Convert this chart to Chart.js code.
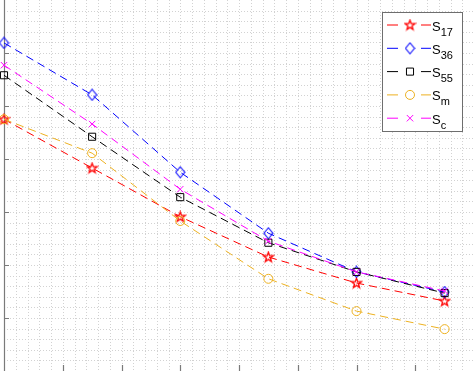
<!DOCTYPE html>
<html>
<head>
<meta charset="utf-8">
<script src="https://cdn.jsdelivr.net/npm/chart.js@4/dist/chart.umd.min.js"></script>
<style>
    html, body { margin: 0; padding: 0; background: #ffffff; }
    #wrap { position: relative; width: 474px; height: 371px; }
</style>
</head>
<body>
<div id="wrap"><canvas id="chart" width="474" height="371"></canvas></div>
<script>
// data
const xValues = [0, 15, 30, 45, 60, 75];
const s17 = [4.75, 3.83, 2.91, 2.15, 1.66, 1.32];
const s36 = [6.19, 5.21, 3.75, 2.60, 1.87, 1.49];
const s55 = [5.58, 4.42, 3.28, 2.42, 1.87, 1.47];
const sm  = [4.75, 4.11, 2.83, 1.74, 1.13, 0.79];
const sc  = [5.77, 4.66, 3.43, 2.45, 1.87, 1.51];

const seriesSubs = ['17', '36', '55', 'm', 'c'];
const seriesData = [s17, s36, s55, sm, sc];
const seriesColors = ['#ff0000', '#0000ff', '#000000', '#edb120', '#ff00ff'];

const xTicks = [10, 20, 30, 40, 50, 60, 70];
const yTicks = [1, 2, 3, 4, 5, 6];

// 五角星 marker (MATLAB 'p')
function makeStar(color) {
    const c = document.createElement('canvas');
    c.width = 13; c.height = 13;
    const g = c.getContext('2d');
    g.strokeStyle = color;
    g.lineWidth = 1.3;
    g.beginPath();
    for (let i = 0; i < 10; i++) {
        const r = i % 2 === 0 ? 5.2 : 2.1;
        const a = -Math.PI / 2 + i * Math.PI / 5;
        const px = 6.5 + r * Math.cos(a), py = 6.8 + r * Math.sin(a);
        if (i === 0) g.moveTo(px, py); else g.lineTo(px, py);
    }
    g.closePath();
    g.stroke();
    return c;
}

// 菱形 marker, a bit taller than wide
function makeDiamond(color) {
    const c = document.createElement('canvas');
    c.width = 11; c.height = 13;
    const g = c.getContext('2d');
    g.strokeStyle = color;
    g.lineWidth = 1.1;
    g.beginPath();
    g.moveTo(5.5, 1); g.lineTo(10, 6.5); g.lineTo(5.5, 12); g.lineTo(1, 6.5);
    g.closePath();
    g.stroke();
    return c;
}

const markerStyles = [makeStar(seriesColors[0]), makeDiamond(seriesColors[1]), 'rect', 'circle', 'crossRot'];
const markerRadius = [5, 5, 5, 4.5, 4.5];

const datasets = seriesData.map((vals, i) => ({
    label: 'S' + seriesSubs[i],
    data: xValues.map((x, k) => ({ x: x, y: vals[k] })),
    borderColor: seriesColors[i],
    borderWidth: 1,
    borderDash: [8, 5],
    pointStyle: markerStyles[i],
    pointRadius: markerRadius[i],
    pointBorderColor: seriesColors[i],
    pointBackgroundColor: 'rgba(0,0,0,0)',
    pointBorderWidth: 1,
    tension: 0,
    clip: false,
    order: seriesData.length - 1 - i
}));

// 网格和坐标轴
const gridPlugin = {
    id: 'matlabGrid',
    beforeDatasetsDraw(chart) {
        const { ctx, chartArea: a, scales: { x, y } } = chart;
        ctx.save();
        ctx.strokeStyle = '#d2d2d2';
        ctx.lineWidth = 1;
        ctx.setLineDash([1, 2]);
        ctx.beginPath();
        for (let i = 1; i < 40; i++) {
            const px = Math.round(x.getPixelForValue(i * 2)) + 0.5;
            ctx.moveTo(px, a.top);
            ctx.lineTo(px, a.bottom);
        }
        for (let i = 1; i < 35; i++) {
            const py = Math.round(y.getPixelForValue(i * 0.2)) + 0.5;
            ctx.moveTo(a.left, py);
            ctx.lineTo(a.right, py);
        }
        ctx.stroke();
        ctx.setLineDash([]);

        ctx.strokeStyle = '#7a7a7a';
        ctx.lineWidth = 1.2;
        ctx.beginPath();
        ctx.moveTo(a.left + 0.5, a.top);
        ctx.lineTo(a.left + 0.5, a.bottom);
        yTicks.forEach(v => {
            const py = Math.round(y.getPixelForValue(v)) + 0.5;
            ctx.moveTo(a.left, py);
            ctx.lineTo(a.left + 5, py);
        });
        xTicks.forEach(v => {
            const px = Math.round(x.getPixelForValue(v)) + 0.5;
            ctx.moveTo(px, a.bottom);
            ctx.lineTo(px, a.bottom - 6);
        });
        ctx.stroke();
        ctx.restore();
    }
};

// 图例 with subscripts
const legendPlugin = {
    id: 'matlabLegend',
    afterDraw(chart) {
        const ctx = chart.ctx;
        const box = { left: 382.5, top: 12.5, width: 80, height: 119 };
        ctx.save();
        ctx.fillStyle = '#ffffff';
        ctx.fillRect(box.left, box.top, box.width, box.height);
        ctx.strokeStyle = '#6e6e6e';
        ctx.lineWidth = 1;
        ctx.strokeRect(box.left, box.top, box.width, box.height);

        chart.data.datasets.forEach((ds, i) => {
            const cy = 25 + i * 23.3;
            ctx.strokeStyle = ds.borderColor;
            ctx.lineWidth = 1;
            ctx.beginPath();
            ctx.moveTo(387, cy); ctx.lineTo(398, cy);
            ctx.moveTo(421, cy); ctx.lineTo(431, cy);
            ctx.stroke();

            ctx.fillStyle = 'rgba(0,0,0,0)';
            ctx.strokeStyle = ds.pointBorderColor;
            Chart.helpers.drawPoint(ctx, {
                pointStyle: ds.pointStyle,
                radius: ds.pointRadius,
                rotation: 0,
                borderWidth: 1
            }, 410, cy);

            ctx.fillStyle = '#000000';
            ctx.textBaseline = 'alphabetic';
            ctx.font = '13px "Liberation Sans", Arial, sans-serif';
            ctx.fillText('S', 432, cy + 5.5);
            const w = ctx.measureText('S').width;
            ctx.font = '11px "Liberation Sans", Arial, sans-serif';
            ctx.fillText(seriesSubs[i], 432 + w, cy + 10.5);
        });
        ctx.restore();
    }
};

new Chart(document.getElementById('chart'), {
    type: 'line',
    data: { datasets: datasets },
    options: {
        responsive: false,
        devicePixelRatio: 1,
        animation: false,
        layout: { autoPadding: false, padding: { left: 4, top: 0, right: 0, bottom: 0 } },
        plugins: {
            legend: { display: false },
            tooltip: { enabled: false }
        },
        scales: {
            x: { type: 'linear', display: false, min: 0, max: 80 },
            y: { type: 'linear', display: false, min: 0, max: 7 }
        }
    },
    plugins: [gridPlugin, legendPlugin]
});
</script>
</body>
</html>
